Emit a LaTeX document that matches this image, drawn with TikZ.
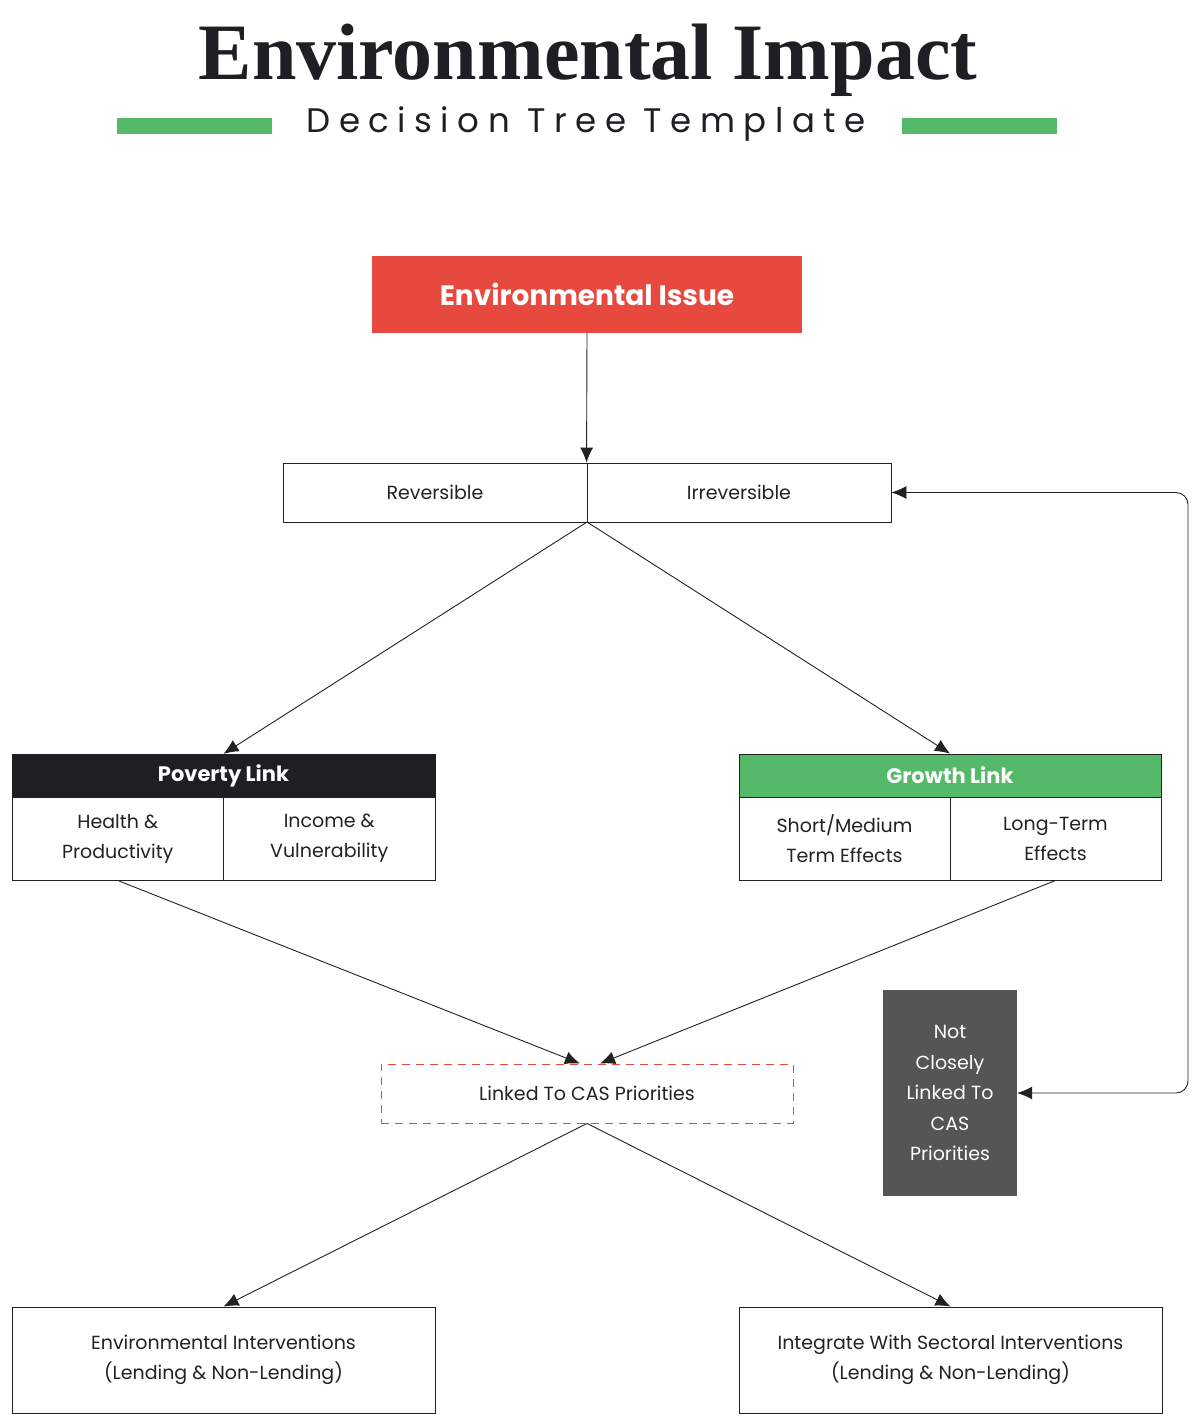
\documentclass[tikz,border=0pt]{standalone}
\usepackage{fontspec}
\setmainfont{Poppins}
\newfontfamily\titlefont{Liberation Serif}
\usetikzlibrary{arrows.meta}
\definecolor{cred}{HTML}{E8493F}
\definecolor{cgreen}{HTML}{55B96A}
\definecolor{cdark}{HTML}{1E1F23}
\definecolor{cgrey}{HTML}{555555}
\definecolor{ctext}{HTML}{222222}
\begin{document}
\begin{tikzpicture}[x=1pt,y=-1pt,
  box/.style={draw=ctext,line width=0.9pt,minimum height=#1,inner sep=2pt,align=center,text=ctext,font=\fontsize{19}{30}\selectfont},
  con/.style={draw=ctext,line width=0.9pt,-{Latex[length=15pt,width=13pt]}},
  ]
\useasboundingbox (0,0) rectangle (1200,1425);
\node[font=\titlefont\bfseries\fontsize{80}{80}\selectfont,text=cdark] (title) at (588,60) {Environmental Impact};
\node[font=\fontsize{34}{34}\selectfont\addfontfeature{LetterSpace=25},text=cdark] (sub) at (586,124) {Decision Tree Template};
\fill[cgreen] (117,118) rectangle (272,134);
\fill[cgreen] (902,118) rectangle (1057,134);

\node[fill=cred,minimum width=430pt,minimum height=77pt,text=white,font=\fontsize{28}{30}\selectfont\bfseries] (issue) at (587,294.5) {Environmental Issue};

\node[box=59pt,minimum width=304pt] (rev) at (435,492.5) {Reversible};
\node[box=59pt,minimum width=304pt] (irr) at (739,492.5) {Irreversible};
\draw[con] (issue.south) -- (irr.north west);

\node[fill=cdark,draw=cdark,minimum width=423pt,minimum height=43pt,text=white,font=\fontsize{21}{24}\selectfont\bfseries] (pov) at (223.5,775.5) {Poverty Link};
\node[box=83pt,minimum width=211.5pt] (health) at (117.75,838.5) {Health \&\\Productivity};
\node[box=83pt,minimum width=211.5pt] (income) at (329.25,838.5) {Income \&\\Vulnerability};

\node[fill=cgreen,draw=ctext,line width=0.9pt,minimum width=422pt,minimum height=43pt,text=white,font=\fontsize{21}{24}\selectfont\bfseries] (gro) at (950,775.5) {Growth Link};
\node[box=83pt,minimum width=211pt] (short) at (844.5,838.5) {Short/Medium\\Term Effects};
\node[box=83pt,minimum width=211pt] (long) at (1055.5,838.5) {Long-Term\\Effects};

\coordinate (split) at (587,522);
\draw[con] (split) -- (pov.north);
\draw[con] (split) -- (gro.north);

\node[box=59pt,minimum width=412pt,draw=cred,dashed,dash pattern=on 8pt off 6pt] (cas) at (587,1093.5) {Linked To CAS Priorities};
\draw[con] (health.south) -- ([xshift=-7pt]cas.north);
\draw[con] (long.south) -- ([xshift=13pt]cas.north);

\node[fill=cgrey,minimum width=134pt,minimum height=206pt,text=white,align=center,font=\fontsize{19}{30.5}\selectfont] (not) at (950,1093) {Not\\Closely\\Linked To\\CAS\\Priorities};

\node[box=106pt,minimum width=423pt] (envint) at (223.5,1360) {Environmental Interventions\\(Lending \& Non-Lending)};
\node[box=106pt,minimum width=423pt] (secint) at (950.5,1360) {Integrate With Sectoral Interventions\\(Lending \& Non-Lending)};
\draw[con] (cas.south) -- (envint.north);
\draw[con] (cas.south) -- (secint.north);

\draw[con,{Latex[length=15pt,width=13pt]}-{Latex[length=15pt,width=13pt]},rounded corners=12pt] (irr.east) -- (1188,492.5) -- (1188,1093) -- (not.east);
\end{tikzpicture}
\end{document}
